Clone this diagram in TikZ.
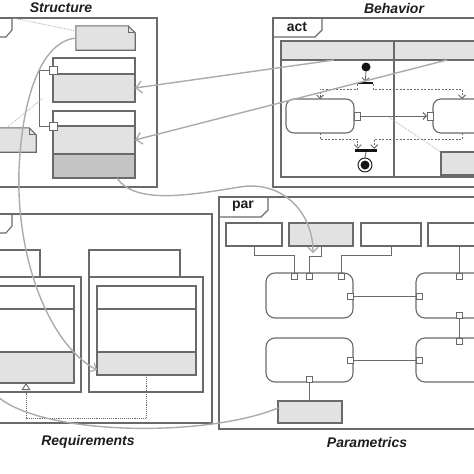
\documentclass[tikz,border=0pt]{standalone}
\usepackage{fontspec}
\setmainfont{Liberation Sans}
\usetikzlibrary{arrows.meta,fit,calc}
\definecolor{lnc}{HTML}{6A6A6A}
\definecolor{lg}{HTML}{E2E2E2}
\definecolor{dg}{HTML}{C4C4C4}
\definecolor{cnc}{HTML}{ABABAB}
\definecolor{txt}{HTML}{1E1E1E}
\definecolor{blk}{HTML}{151515}
\begin{document}
\begin{tikzpicture}[x=1pt,y=-1pt,
  ln/.style={draw=lnc,line width=1.1pt},
  bx/.style={draw=lnc,line width=1.1pt,inner sep=0pt,outer sep=0pt,rectangle},
  rbx/.style={bx,rounded corners=9pt},
  port/.style={draw=lnc,line width=0.9pt,fill=white,minimum size=6pt,inner sep=0pt,outer sep=0pt,rectangle},
  sport/.style={port,minimum size=8pt},
  wire/.style={draw=lnc,line width=0.9pt},
  conn/.style={draw=cnc,line width=1.4pt},
  bigarrow/.style={-{Straight Barb[length=6pt,width=12pt,line width=1.3pt]}},
  dotl/.style={draw=cnc,line width=0.8pt,densely dotted},
  flow/.style={draw=lnc,line width=0.9pt,dash pattern=on 2pt off 1.5pt},
  smallarrow/.style={-{Straight Barb[length=3.5pt,width=7pt]}},
  title/.style={font=\fontsize{14}{16}\selectfont\bfseries\itshape,text=txt},
  tabtext/.style={font=\fontsize{14}{16}\selectfont\bfseries,text=txt}
]
\useasboundingbox[fill=white] (0,0) rectangle (474,474);

% ---------- titles
\node[title] (tS) at (61,8) {Structure};
\node[title] (tB) at (394,8) {Behavior};
\node[title] (tR) at (88,442) {Requirements};
\node[title] (tP) at (367,442) {Parametrics};

% ---------- frames
\node[bx,fit={(-40,18) (157,187)}] (fS) {};
\draw[ln] (-40,37) -- (6,37) -- (12,30) -- (12,18);
\node[bx,fit={(273,18) (520,187)}] (fB) {};
\draw[ln] (273,37) -- (315,37) -- (322,30) -- (322,18);
\node[tabtext] (tact) at (297,27) {act};
\node[bx,fit={(-40,214) (212,423)}] (fR) {};
\draw[ln] (-40,233) -- (6,233) -- (12,226) -- (12,214);
\node[bx,fit={(219,197) (520,429)}] (fP) {};
\draw[ln] (219,217) -- (261,217) -- (268,210) -- (268,197);
\node[tabtext] (tpar) at (243,206) {par};

% ---------- Structure
\node[inner sep=0pt,fit={(76,26) (135,50)}] (n1) {};
\draw[ln,fill=lg] (n1.south west) -- (n1.north west) -- ($(n1.north east)+(-7,0)$) -- ($(n1.north east)+(0,7)$) -- (n1.south east) -- cycle;
\draw[ln] ($(n1.north east)+(-7,0)$) -- ($(n1.north east)+(-7,7)$) -- ($(n1.north east)+(0,7)$);
\node[inner sep=0pt,fit={(-20,128) (36,152)}] (n2) {};
\draw[ln,fill=lg] (n2.south west) -- (n2.north west) -- ($(n2.north east)+(-7,0)$) -- ($(n2.north east)+(0,7)$) -- (n2.south east) -- cycle;
\draw[ln] ($(n2.north east)+(-7,0)$) -- ($(n2.north east)+(-7,7)$) -- ($(n2.north east)+(0,7)$);

\node[bx,fill=white,fit={(53,58) (135,74)}] (s1a) {};
\node[bx,fill=lg,fit={(53,74) (135,102)}] (s1b) {};
\node[bx,fill=white,fit={(53,111) (135,126)}] (s2a) {};
\node[bx,fill=lg,fit={(53,126) (135,154)}] (s2b) {};
\node[bx,fill=dg,fit={(53,154) (135,178)}] (s2c) {};
\node[sport] (sp1) at (53,70) {};
\node[sport] (sp2) at (53,126) {};
\draw[wire] (sp1.west) -- ++(-10,0) coordinate (wk) |- (sp2.west);
\coordinate (wd) at (43,98);

% ---------- Behavior
\node[bx,fit={(281,41) (520,177)}] (part) {};
\node[bx,fill=lg,fit={(281,41) (520,60)}] (hdr) {};
\draw[ln] (394,41) -- (394,177);
\coordinate (h1) at (334,60);
\coordinate (h2) at (447,60);
\node[circle,fill=blk,minimum size=9pt,inner sep=0pt] (init) at (366,67) {};
\node[fill=blk,inner sep=0pt,fit={(358,82) (373,84)}] (fork) {};
\node[rbx,fill=white,rounded corners=8pt,fit={(286,99) (354,133)}] (act1) {};
\node[rbx,fill=white,rounded corners=8pt,fit={(433,99) (491,133)}] (act2) {};
\node[port,minimum width=6pt,minimum height=8pt] (pin1) at (357,116) {};
\node[port,minimum width=6pt,minimum height=8pt] (pin2) at (430,116) {};
\node[fill=blk,inner sep=0pt,fit={(355,149) (377,152)}] (join) {};
\node[circle,draw=blk,line width=0.9pt,fill=white,minimum size=14pt,inner sep=0pt] (fin) at (365,165) {};
\node[circle,fill=blk,minimum size=9pt,inner sep=0pt] (finc) at (365,165) {};
\node[bx,fill=lg,fit={(441,152) (500,175)}] (obj) {};
\draw[wire,smallarrow] (init) -- (fork.north);
\draw[flow,smallarrow] (fork.south west) -- ++(0,5) -| (act1.north);
\draw[flow,smallarrow] (fork.south east) -- ++(0,5) -| (act2.north);
\draw[flow,smallarrow] (act1.south) -- ++(0,6) -| ($(join.north west)+(3,0)$);
\draw[flow,smallarrow] (act2.south) -- ++(0,6) -| ($(join.north east)+(-3,0)$);
\draw[wire] (join.south) -- (fin.north);
\draw[wire,smallarrow] (pin1.east) -- (pin2.west);
\coordinate (fl) at (387,116);
\draw[dotl] (fl) -- (obj.north west);

% ---------- Requirements
\node[bx,fit={(-40,250) (40,277)}] (r1h) {};
\node[bx,fit={(-40,277) (81,392)}] (r1o) {};
\node[bx,fill=white,fit={(-40,286) (74,309)}] (r1a) {};
\node[bx,fill=white,fit={(-40,309) (74,352)}] (r1b) {};
\node[bx,fill=lg,fit={(-40,352) (74,383)}] (r1c) {};
\node[bx,fit={(89,250) (180,277)}] (r2h) {};
\node[bx,fit={(89,277) (203,392)}] (r2o) {};
\node[bx,fill=white,fit={(97,286) (196,309)}] (r2a) {};
\node[bx,fill=white,fit={(97,309) (196,352)}] (r2b) {};
\node[bx,fill=lg,fit={(97,352) (196,375)}] (r2c) {};
\draw[draw=lnc,line width=0.9pt,densely dotted,-{Triangle[open,length=7pt,width=9pt,line width=0.9pt,fill=white]}]
  (r2c.south) -- ++(0,43) -| ($(r1c.south east)+(-48,0)$);

% ---------- Parametrics
\node[bx,fill=white,fit={(226,223) (282,246)}] (pa) {};
\node[bx,fill=lg,fit={(289,223) (353,246)}] (pb) {};
\node[bx,fill=white,fit={(361,223) (421,246)}] (pc) {};
\node[bx,fill=white,fit={(428,223) (490,246)}] (pd) {};
\node[rbx,fit={(266,273) (353,318)}] (c1) {};
\node[rbx,fit={(416,273) (520,318)}] (c2) {};
\node[rbx,fit={(266,338) (353,382)}] (c3) {};
\node[rbx,fit={(416,338) (520,382)}] (c4) {};
\node[port] (q1) at (294,276) {};
\node[port] (q2) at (309,276) {};
\node[port] (q3) at (341,276) {};
\node[port] (q4) at (459,276) {};
\node[port] (q5) at (350,296) {};
\node[port] (q6) at (419,296) {};
\node[port] (q7) at (459,315) {};
\node[port] (q8) at (459,341) {};
\node[port] (q9) at (350,360) {};
\node[port] (q10) at (419,360) {};
\node[port] (q11) at (309,379) {};
\node[bx,fill=lg,fit={(278,401) (342,423)}] (pg) {};
\draw[wire] (pa.south) -- ++(0,9) -| (q1.north);
\draw[wire] (pb.south) -- ++(0,10) -| (q2.north);
\draw[wire] (pc.south) -- ++(0,9) -| (q3.north);
\draw[wire] (pd.south -| q4) -- (q4.north);
\draw[wire] (q5.east) -- (q6.west);
\draw[wire] (q7.south) -- (q8.north);
\draw[wire] (q9.east) -- (q10.west);
\draw[wire] (q11.south) -- (pg.north -| q11);

% ---------- cross-view connectors
\draw[dotl] (13,18) -- ($(n1.west)+(0,-7)$);
\draw[dotl] ($(n2.north west)+(27,0)$) -- (wd);
\draw[conn,bigarrow] (h1) -- (s1b.east);
\draw[conn,bigarrow] (h2) -- (s2b.east);
\draw[conn,-{Straight Barb[length=5pt,width=10pt,line width=1.2pt]}] (n1.west) .. controls (40,42) and (22,100) .. (19,170)
   .. controls (16,260) and (50,345) .. ($(r2c.south west)+(0,-5)$);
\draw[conn,-{Straight Barb[length=5pt,width=10pt,line width=1.2pt]}] ($(s2c.south)+(23,0)$) .. controls (135,205) and (190,195) .. (240,187)
   .. controls (282,180) and (313,212) .. ($(pb.south west)+(24,7)$);
\draw[conn] (-10,388) .. controls (20,435) and (200,440) .. ($(pg.west)+(0,-4)$);
\end{tikzpicture}
\end{document}
